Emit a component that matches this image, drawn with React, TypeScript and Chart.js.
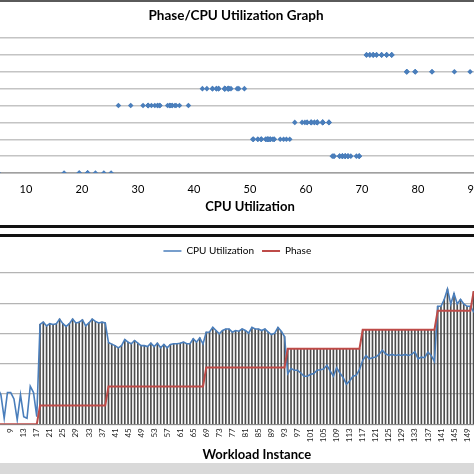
import React, { useEffect, useRef } from 'react';
import { Chart, registerables } from 'chart.js';

Chart.register(...registerables);

const FONT = 'Lato, "Open Sans", sans-serif';

// Workload instances 1..168 (category labels)
const instances: string[] = Array.from({ length: 168 }, (_, i) => String(i + 1));

// CPU utilization (%) per workload instance
const cpuUtilization: number[] = [
  // 1-17 (phase 0)
  21, 4, 22.4, 3, 23.9, 19.5, 4, 21, 21, 16.8, 3, 19.5, 5, 4, 25.2, 21, 5,
  // 18-38 (phase 1)
  66, 67.5, 65, 66.5, 66, 66.5, 69.5, 66.5, 64.7, 66.5, 69.5, 67, 67.5, 69, 65, 67, 69.5, 68, 67, 67.5, 67,
  // 39-68 (phase 2)
  54, 53, 52, 50.5, 52, 56, 54.3, 53.2, 55.4, 53.6, 52, 52, 51.4, 53.6, 51.4, 53.6, 50.6, 52.8, 50.6, 52.8,
  53.2, 53.2, 53.6, 54.3, 53.2, 53.2, 56.5, 54.3, 57.1, 53.2,
  // 69-93 (phase 3)
  60.9, 61, 64.1, 62, 59.8, 62, 63, 63, 60.9, 62, 61.5, 63, 62, 60.2, 64.1, 63, 63, 62, 63, 60.9, 59.3, 60.2, 64.1, 61.5, 58,
  // 94-116 (phase 4)
  33.5, 36.8, 35.7, 35.7, 33.9, 31.8, 31.8, 33, 33.5, 35.7, 36.1, 36.6, 39, 35.3, 31.8, 37.4, 33.9, 30.9, 26.5, 28.7, 31.8, 32.4, 36.1,
  // 117-139 (phase 5)
  42.3, 45.5, 43.3, 44, 44.4, 46.2, 49, 46.6, 45.5, 46.2, 45.5, 46, 45.5, 46.2, 45.5, 46.2, 48, 43.3, 44.4, 44, 47.7, 45.5, 41.5,
  // 140-150 (phase 6)
  78, 78, 82.5, 89.3, 79.5, 86.5, 79.5, 82.5, 79.5, 78, 78,
  // 151-168 (phase 7)
  74.4, 75.3, 72, 70.8, 73.5, 71.4, 72.6, 75.3, 74.4, 72, 73.5, 70.8, 72.6, 71.4, 74.4, 73.5, 72, 75.3,
];

// Phase per workload instance
const phase: number[] = [
  0, 0, 0, 0, 0, 0, 0, 0, 0, 0, 0, 0, 0, 0, 0, 0, 0,
  1, 1, 1, 1, 1, 1, 1, 1, 1, 1, 1, 1, 1, 1, 1, 1, 1, 1, 1, 1, 1,
  2, 2, 2, 2, 2, 2, 2, 2, 2, 2, 2, 2, 2, 2, 2, 2, 2, 2, 2, 2, 2, 2, 2, 2, 2, 2, 2, 2, 2, 2,
  3, 3, 3, 3, 3, 3, 3, 3, 3, 3, 3, 3, 3, 3, 3, 3, 3, 3, 3, 3, 3, 3, 3, 3, 3,
  4, 4, 4, 4, 4, 4, 4, 4, 4, 4, 4, 4, 4, 4, 4, 4, 4, 4, 4, 4, 4, 4, 4,
  5, 5, 5, 5, 5, 5, 5, 5, 5, 5, 5, 5, 5, 5, 5, 5, 5, 5, 5, 5, 5, 5, 5,
  6, 6, 6, 6, 6, 6, 6, 6, 6, 6, 6,
  7, 7, 7, 7, 7, 7, 7, 7, 7, 7, 7, 7, 7, 7, 7, 7, 7, 7,
];

// Phase is drawn on the 0-100 axis of the lower chart (8 steps)
const PHASE_SCALE = 12.5;

const BLUE = '#4a7ebb';
const RED = '#be4b48';

const legendSpacer = {
  id: 'legendSpacer',
  beforeInit(chart: any) {
    const legend = chart.legend;
    if (!legend) return;
    const orig = legend.fit;
    legend.fit = function () {
      orig.call(this);
      this.height += 7;
    };
  },
};

export default function App() {
  const topRef = useRef<HTMLCanvasElement | null>(null);
  const botRef = useRef<HTMLCanvasElement | null>(null);

  useEffect(() => {
    const scatterPoints = cpuUtilization.map((c, i) => ({ x: c, y: phase[i] }));
    const top = new Chart(topRef.current as HTMLCanvasElement, {
      type: 'scatter',
      data: {
        datasets: [
          {
            label: 'Phase',
            data: scatterPoints,
            pointStyle: 'rectRot',
            pointRadius: 2.8,
            backgroundColor: BLUE,
            borderColor: BLUE,
            borderWidth: 0,
          },
        ],
      },
      options: {
        animation: false,
        responsive: false,
        layout: { padding: { left: 0, right: 24, top: 0, bottom: 0 } },
        plugins: {
          legend: { display: false },
          tooltip: { enabled: false },
          title: {
            display: true,
            text: 'Phase/CPU Utilization Graph',
            color: '#000',
            font: { family: FONT, size: 13.5, weight: 'bold' },
            padding: { top: 8, bottom: 13.8 },
          },
        },
        scales: {
          x: {
            type: 'linear',
            min: 0,
            max: 100,
            ticks: { stepSize: 10, color: '#000', font: { family: FONT, size: 11 }, padding: 10 },
            grid: { display: false, drawTicks: false },
            border: { color: '#a0a0a0', width: 1.5 },
            title: {
              display: true,
              text: 'CPU Utilization',
              color: '#000',
              font: { family: FONT, size: 13, weight: 'bold' },
              padding: { top: 0, bottom: 11 },
            },
            afterFit: (s: any) => {
              s.height = 53;
            },
          },
          y: {
            min: 0,
            max: 8,
            ticks: { stepSize: 1, color: '#000', font: { family: FONT, size: 11 } },
            grid: { color: '#c4c4c4', lineWidth: 1.5, drawTicks: false },
            border: { display: false },
            afterFit: (s: any) => {
              s.width = 28;
            },
          },
        },
      } as any,
    });

    const phaseLine = phase.map((p) => p * PHASE_SCALE);
    const dropLines = cpuUtilization.map((c, i) => (phase[i] > 0 ? Math.max(c, phaseLine[i]) : null));

    const bottom = new Chart(botRef.current as HTMLCanvasElement, {
      type: 'line',
      data: {
        labels: instances,
        datasets: [
          {
            label: 'CPU Utilization',
            data: cpuUtilization,
            borderColor: BLUE,
            backgroundColor: BLUE,
            borderWidth: 1.6,
            pointRadius: 0,
            tension: 0,
            order: 1,
          },
          {
            label: 'Phase',
            data: phaseLine,
            borderColor: RED,
            backgroundColor: RED,
            borderWidth: 2,
            pointRadius: 0,
            tension: 0,
            order: 0,
          },
          {
            type: 'bar',
            label: 'Drop lines',
            data: dropLines,
            backgroundColor: '#4d4d4d',
            borderWidth: 0,
            barThickness: 1,
            order: 5,
          } as any,
        ],
      },
      options: {
        animation: false,
        responsive: false,
        layout: { padding: { left: 0, right: 23.4, top: 0, bottom: 0 } },
        plugins: {
          tooltip: { enabled: false },
          legend: {
            display: true,
            position: 'top',
            labels: {
              filter: (item: any) => item.datasetIndex < 2,
              sort: (a: any, b: any) => a.datasetIndex - b.datasetIndex,
              usePointStyle: true,
              pointStyle: 'line',
              pointStyleWidth: 18,
              color: '#000',
              padding: 8,
              font: { family: FONT, size: 10 },
            },
          },
        },
        scales: {
          x: {
            type: 'category',
            offset: true,
            ticks: {
              autoSkip: false,
              minRotation: 90,
              maxRotation: 90,
              padding: 4,
              color: '#222',
              font: { family: FONT, size: 8 },
              callback: (_v: any, i: number) => (i % 4 === 0 ? instances[i] : ''),
            },
            grid: { display: false, drawTicks: false },
            border: { color: '#8a8a8a', width: 1 },
            title: {
              display: true,
              text: 'Workload Instance',
              color: '#000',
              font: { family: FONT, size: 13, weight: 'bold' },
              padding: { top: 0, bottom: 0 },
            },
            afterFit: (s: any) => {
              s.height = 38.7;
            },
          },
          y: {
            min: 0,
            max: 100,
            ticks: { stepSize: 20, color: '#000', font: { family: FONT, size: 10 } },
            grid: { color: '#b4b4b4', lineWidth: 1.2, drawTicks: false },
            border: { display: false },
            afterFit: (s: any) => {
              s.width = 39;
            },
          },
        },
      } as any,
      plugins: [legendSpacer as any],
    });

    return () => {
      top.destroy();
      bottom.destroy();
    };
  }, []);

  return (
    <div
      style={{
        position: 'fixed',
        left: 0,
        top: 0,
        width: 474,
        height: 474,
        overflow: 'hidden',
        background: '#ffffff',
      }}
    >
      <div style={{ position: 'absolute', left: -58, top: 0, width: 612, height: 226 }}>
        <canvas ref={topRef} width={612} height={226} style={{ display: 'block' }} />
      </div>
      <div style={{ position: 'absolute', left: -56, top: 238, width: 610, height: 225 }}>
        <canvas ref={botRef} width={610} height={225} style={{ display: 'block' }} />
      </div>
      <div style={{ position: 'absolute', left: 0, top: 0, width: 474, height: 2, background: '#5a5a5a' }} />
      <div style={{ position: 'absolute', left: 0, top: 225, width: 474, height: 3, background: '#111' }} />
      <div style={{ position: 'absolute', left: 0, top: 234, width: 474, height: 3, background: '#111' }} />
      <div style={{ position: 'absolute', left: 0, top: 463, width: 474, height: 11, background: '#d9d9d9' }} />
    </div>
  );
}
